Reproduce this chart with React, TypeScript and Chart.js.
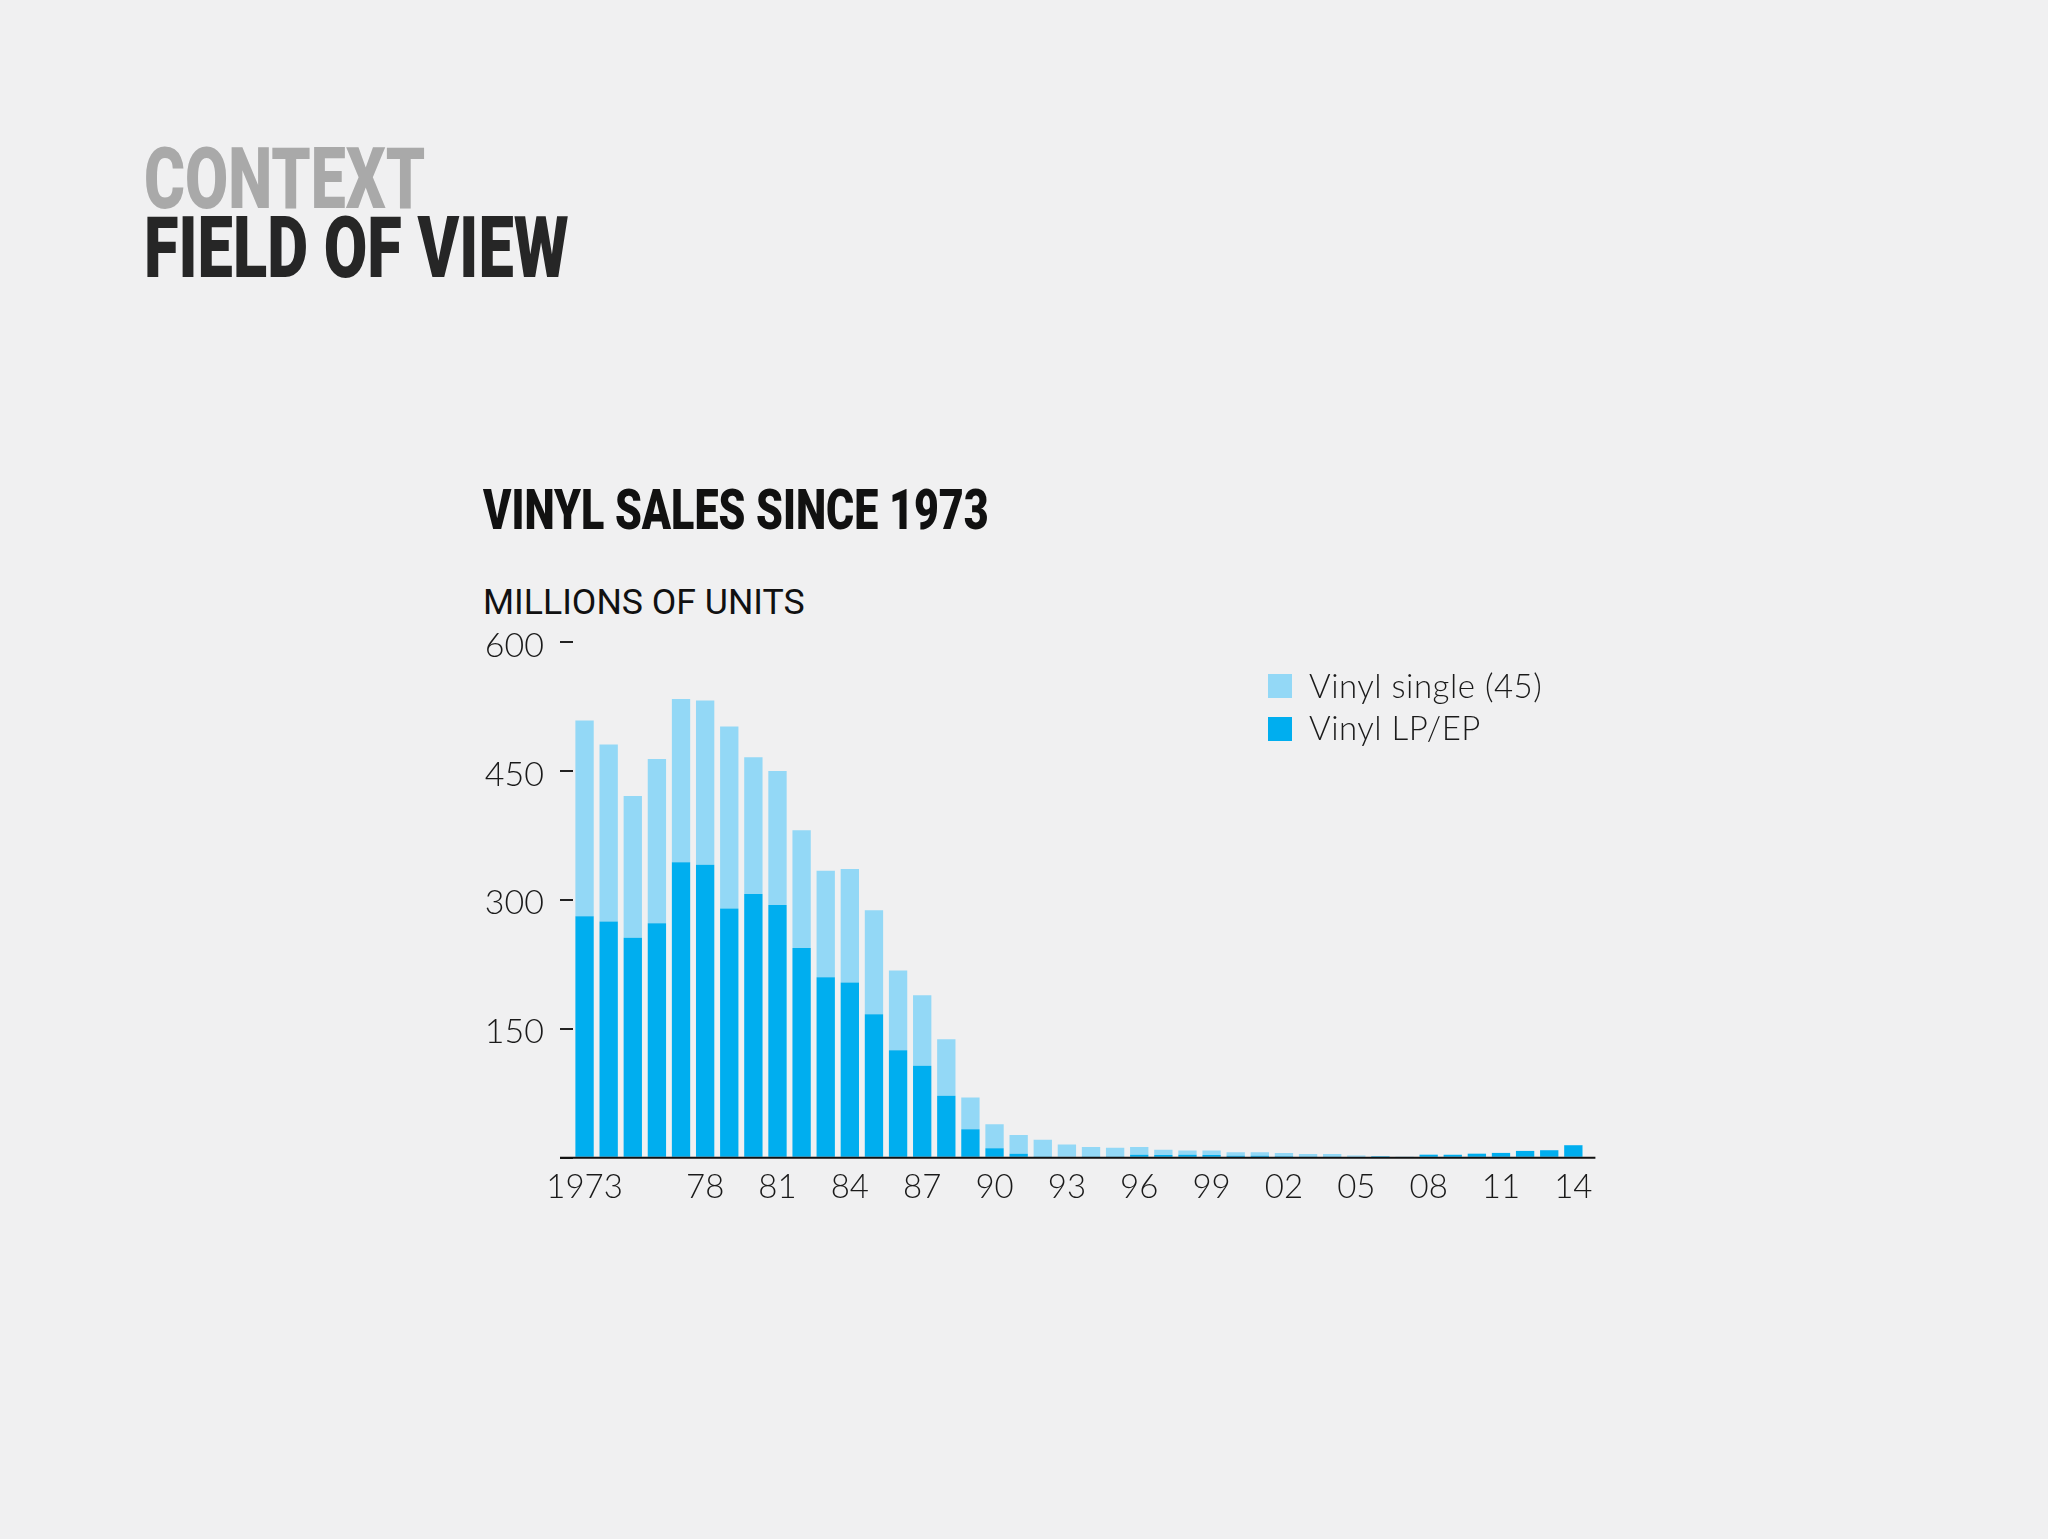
import React, { useEffect, useLayoutEffect, useRef, useState } from 'react';
import { Chart, registerables } from 'chart.js';

Chart.register(...registerables);

// ---- data ----
const years = [
  1973, 1974, 1975, 1976, 1977, 1978, 1979, 1980, 1981, 1982, 1983, 1984, 1985, 1986,
  1987, 1988, 1989, 1990, 1991, 1992, 1993, 1994, 1995, 1996, 1997, 1998, 1999, 2000,
  2001, 2002, 2003, 2004, 2005, 2006, 2007, 2008, 2009, 2010, 2011, 2012, 2013, 2014,
];
const lpValues = [
  281, 275, 256, 273, 344, 341, 290, 307, 294, 244, 210, 204, 167, 125,
  107, 72, 33, 11, 4.7, 1.5, 1.0, 1.5, 1.5, 3.3, 3.2, 3.4, 3.0, 2.2,
  2.2, 1.7, 1.4, 1.3, 1.0, 0.9, 1.2, 3.3, 3.3, 4.6, 5.5, 7.8, 8.6, 14.4,
];
const singleValues = [
  228, 206, 165, 191, 190, 191, 212, 159, 156, 137, 124, 132, 121, 93,
  82, 66, 37, 28, 21.7, 19.5, 14.5, 11, 10.2, 9.1, 6.1, 5.1, 5.5, 4.0,
  4.0, 3.7, 2.9, 3.0, 1.7, 1.0, 0.3, 0.3, 0.2, 0.3, 0.3, 0.3, 0.3, 0.4,
];
const yTickValues = [0, 150, 300, 450, 600];
const xTickYears = [1973, 1978, 1981, 1984, 1987, 1990, 1993, 1996, 1999, 2002, 2005, 2008, 2011, 2014];
const xTickTexts = ['1973', '78', '81', '84', '87', '90', '93', '96', '99', '02', '05', '08', '11', '14'];
const seriesNames = ['Vinyl single (45)', 'Vinyl LP/EP'];
const seriesColors = ['#93d8f6', '#00aeef'];

// ---- styles ----
const BG = '#f0f0f1';
const TEXT = '#1a1a1a';
const TICK_FONT = 'Lato, "Open Sans", sans-serif';
const HEAD_FONT = 'Roboto, "Liberation Sans", sans-serif';
const Y_TICK_LEN = 12.5;

type FitProps = {
  text: string; left: number; top: number; width: number; size: number;
  weight: number; color: string; family: string;
};

function FitText({ text, left, top, width, size, weight, color, family }: FitProps) {
  const ref = useRef<HTMLDivElement>(null);
  const [k, setK] = useState(1);
  useLayoutEffect(() => {
    const el = ref.current;
    if (!el) return;
    const measure = () => {
      const w = el.offsetWidth;
      if (w > 0) setK(width / w);
    };
    measure();
    if ((document as any).fonts && (document as any).fonts.ready) {
      (document as any).fonts.ready.then(measure);
    }
  }, [text, width, size]);
  return (
    <div
      ref={ref}
      style={{
        position: 'absolute', left, top, fontFamily: family, fontSize: size,
        fontWeight: weight, color, lineHeight: 1, whiteSpace: 'nowrap',
        transform: `scaleX(${k})`, transformOrigin: '0 0',
      }}
    >
      {text}
    </div>
  );
}

const baselinePlugin = {
  id: 'baseline',
  afterDatasetsDraw(chart: any) {
    const { ctx, chartArea } = chart;
    const y = chart.scales.y.getPixelForValue(0);
    ctx.save();
    ctx.strokeStyle = '#111';
    ctx.lineWidth = 2;
    ctx.beginPath();
    ctx.moveTo(chartArea.left - Y_TICK_LEN, y);
    ctx.lineTo(chartArea.right + 10, y);
    ctx.stroke();
    ctx.restore();
  },
};

function VinylChart() {
  const canvasRef = useRef<HTMLCanvasElement>(null);
  useEffect(() => {
    const canvas = canvasRef.current;
    if (!canvas) return;
    const chart = new Chart(canvas, {
      type: 'bar',
      data: {
        labels: years.map(String),
        datasets: [
          { label: seriesNames[1], data: lpValues, backgroundColor: seriesColors[1], borderWidth: 0 },
          { label: seriesNames[0], data: singleValues, backgroundColor: seriesColors[0], borderWidth: 0 },
        ],
      },
      options: {
        responsive: false,
        animation: false,
        layout: { padding: { top: 42.2, right: 54.6, bottom: 2.3, left: 0 } },
        plugins: {
          legend: { display: false },
          tooltip: { enabled: false },
          title: { display: false },
        },
        datasets: { bar: { barPercentage: 0.76, categoryPercentage: 1 } },
        scales: {
          x: {
            stacked: true,
            offset: true,
            grid: { display: false },
            border: { display: false },
            ticks: {
              autoSkip: false,
              maxRotation: 0,
              minRotation: 0,
              padding: 2,
              color: TEXT,
              font: { family: TICK_FONT, size: 33, weight: '300' },
              callback: (_v: any, i: number) => {
                const idx = xTickYears.indexOf(years[i]);
                return idx >= 0 ? xTickTexts[idx] : '';
              },
            },
            afterFit: (s: any) => { s.height = 80; },
          },
          y: {
            stacked: true,
            min: 0,
            max: 600,
            afterBuildTicks: (s: any) => { s.ticks = yTickValues.map((v) => ({ value: v })); },
            grid: { drawOnChartArea: false, drawTicks: true, tickLength: Y_TICK_LEN, color: '#222', lineWidth: 2 },
            border: { display: false },
            ticks: {
              padding: 16,
              labelOffset: 3.5,
              color: TEXT,
              font: { family: TICK_FONT, size: 34, weight: '300' },
              callback: (v: any) => (v === 0 ? '' : String(v)),
            },
            afterFit: (s: any) => { s.width = 132.5; },
          },
        },
      } as any,
      plugins: [baselinePlugin],
    });
    return () => chart.destroy();
  }, []);
  return (
    <canvas
      ref={canvasRef}
      width={1200}
      height={640}
      style={{ position: 'absolute', left: 440, top: 600, width: 1200, height: 640 }}
    />
  );
}

export default function App() {
  const legendItems = [0, 1];
  return (
    <div style={{ position: 'fixed', left: 0, top: 0, width: 2048, height: 1539, background: BG, overflow: 'hidden' }}>
      <FitText text="CONTEXT" left={144} top={137.8} width={281} size={84.4} weight={900} color="#a9a9a9" family={HEAD_FONT} />
      <FitText text="FIELD OF VIEW" left={144} top={207.4} width={425} size={84.4} weight={900} color="#262626" family={HEAD_FONT} />
      <FitText text="VINYL SALES SINCE 1973" left={483} top={482} width={506} size={56.3} weight={900} color="#111" family={HEAD_FONT} />
      <FitText text="MILLIONS OF UNITS" left={483} top={585.4} width={322} size={35.2} weight={400} color="#111" family={HEAD_FONT} />
      <VinylChart />
      {legendItems.map((i) => (
        <div key={i} style={{ position: 'absolute', left: 1268, top: 674 + i * 42.7, height: 24 }}>
          <div style={{ position: 'absolute', left: 0, top: 0, width: 24, height: 24, background: seriesColors[i] }} />
          <div
            style={{
              position: 'absolute', left: 41, top: -5.5, fontFamily: TICK_FONT, fontWeight: 300,
              fontSize: 33, lineHeight: 1, color: TEXT, whiteSpace: 'nowrap', letterSpacing: 0.5,
            }}
          >
            {seriesNames[i]}
          </div>
        </div>
      ))}
    </div>
  );
}
